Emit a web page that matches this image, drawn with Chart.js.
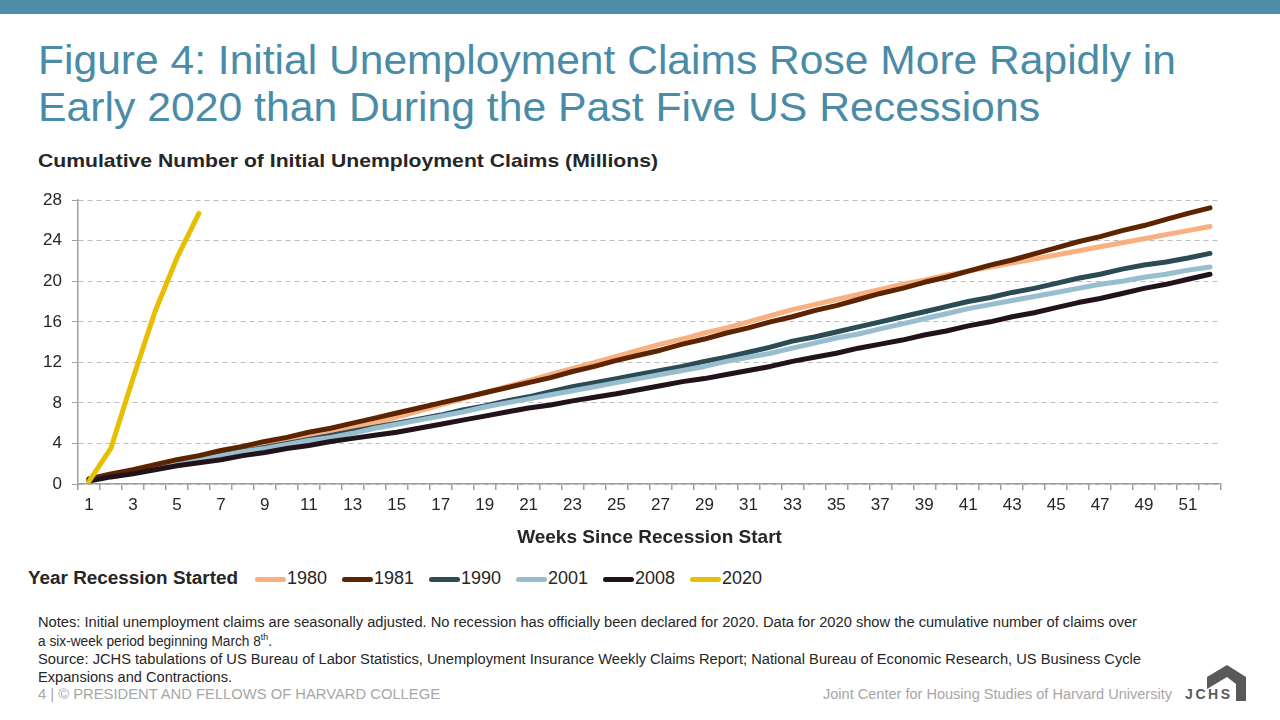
<!DOCTYPE html>
<html>
<head>
<meta charset="utf-8">
<script src="https://cdn.jsdelivr.net/npm/chart.js@4.4.1/dist/chart.umd.min.js"></script>
<style>
  body { margin:0; width:1280px; height:720px; position:relative; overflow:hidden; background:#fff; font-family:"Liberation Sans", Arial, sans-serif; }
  #barra { position:absolute; left:0; top:0; width:1280px; height:14px; background:#4E8CA8; }
  #titulo { position:absolute; left:38px; top:37px; font-size:41px; line-height:46.7px; color:#4A8BA7; }
  #subtitulo { position:absolute; left:38px; top:150px; font-size:19px; font-weight:bold; color:#262626; }
  #lienzo { position:absolute; left:0; top:180px; }
  .txt { position:absolute; white-space:nowrap; transform-origin:left center; }
  .nota { font-size:14px; color:#262626; line-height:18px; height:18px; }
  .nota sup { font-size:9px; line-height:0; vertical-align:6px; }
  .pie { font-size:14px; color:#A6A6A6; }
  .muestra { position:absolute; height:5px; border-radius:3px; }
</style>
</head>
<body>
<div id="barra"></div>
<div id="titulo">
  <div class="fit" data-w="1138">Figure 4: Initial Unemployment Claims Rose More Rapidly in</div>
  <div class="fit" data-w="1002">Early 2020 than During the Past Five US Recessions</div>
</div>
<div id="subtitulo" class="fit" data-w="620">Cumulative Number of Initial Unemployment Claims (Millions)</div>

<canvas id="lienzo" width="1280" height="380"></canvas>

<div id="leyenda"></div>

<div class="txt nota fit" data-w="1099" style="left:38px;top:613px">Notes: Initial unemployment claims are seasonally adjusted. No recession has officially been declared for 2020. Data for 2020 show the cumulative number of claims over</div>
<div class="txt nota fit" data-w="234" style="left:38px;top:632px">a six-week period beginning March 8<sup>th</sup>.</div>
<div class="txt nota fit" data-w="1103" style="left:38px;top:650px">Source: JCHS tabulations of US Bureau of Labor Statistics, Unemployment Insurance Weekly Claims Report; National Bureau of Economic Research, US Business Cycle</div>
<div class="txt nota fit" data-w="194" style="left:38px;top:668px">Expansions and Contractions.</div>
<div class="txt pie fit" data-w="402" style="left:38px;top:686px">4 | © PRESIDENT AND FELLOWS OF HARVARD COLLEGE</div>
<div class="txt pie fit" data-w="349" style="left:823px;top:686px">Joint Center for Housing Studies of Harvard University</div>
<div class="txt" style="left:1185px;top:686px;font-size:14px;font-weight:bold;letter-spacing:2.6px;color:#595959">JCHS</div>
<svg style="position:absolute;left:0;top:0" width="1280" height="720">
  <polygon points="1207,677 1227,665 1246,677 1246,701 1236,701 1236,684 1227,677 1207,689" fill="#595959"/>
</svg>

<script>
// Datos del gráfico
const semanas=[1,2,3,4,5,6,7,8,9,10,11,12,13,14,15,16,17,18,19,20,21,22,23,24,25,26,
  27,28,29,30,31,32,33,34,35,36,37,38,39,40,41,42,43,44,45,46,47,48,49,50,51,52];
const ticksY=[0,4,8,12,16,20,24,28];

const anios=["1980","1981","1990","2001","2008","2020"];
const colores=["#F9B07F","#5C2400","#2B4C55","#97BDCF","#22121C","#E8BF00"];

const v1980=[0.5,0.9,1.3,1.7,2.2,2.6,3.0,3.4,3.8,4.2,4.6,5.0,5.5,6.0,6.6,7.2,7.8,8.4,9.0,9.6,
  10.2,10.8,11.4,12.0,12.6,13.2,13.8,14.3,14.9,15.4,16.0,16.6,17.2,17.7,18.2,18.7,19.2,19.7,20.1,20.6,
  21.0,21.4,21.8,22.2,22.6,23.0,23.4,23.8,24.2,24.6,25.0,25.4];
const v1981=[0.5,1.0,1.4,1.9,2.4,2.8,3.3,3.7,4.2,4.6,5.1,5.5,6.0,6.5,7.0,7.5,8.0,8.5,9.0,9.5,
  10.0,10.5,11.1,11.6,12.2,12.7,13.2,13.8,14.3,14.9,15.4,16.0,16.5,17.1,17.6,18.2,18.8,19.3,19.9,20.4,
  21.0,21.6,22.1,22.7,23.3,23.9,24.4,25.0,25.5,26.1,26.7,27.25];
const v1990=[0.4,0.8,1.2,1.7,2.1,2.5,2.9,3.2,3.6,4.0,4.4,4.8,5.2,5.6,6.0,6.4,6.8,7.3,7.7,8.2,
  8.6,9.1,9.6,10.0,10.4,10.8,11.2,11.6,12.1,12.5,13.0,13.5,14.1,14.5,15.0,15.5,16.0,16.5,17.0,17.5,
  18.0,18.4,18.9,19.3,19.8,20.3,20.7,21.2,21.6,21.9,22.3,22.75];
const v2001=[0.4,0.8,1.2,1.6,2.0,2.4,2.8,3.2,3.5,3.9,4.3,4.6,5.0,5.5,5.9,6.3,6.7,7.1,7.6,8.0,
  8.4,8.8,9.2,9.6,10.0,10.4,10.8,11.2,11.6,12.1,12.5,12.9,13.4,13.9,14.4,14.8,15.3,15.8,16.3,16.8,
  17.3,17.7,18.1,18.5,18.9,19.3,19.7,20.0,20.4,20.7,21.1,21.4];
const v2008=[0.3,0.7,1.0,1.4,1.8,2.1,2.4,2.8,3.1,3.5,3.8,4.2,4.5,4.8,5.1,5.5,5.9,6.3,6.7,7.1,
  7.5,7.8,8.2,8.55,8.9,9.3,9.7,10.1,10.4,10.8,11.2,11.6,12.1,12.5,12.9,13.4,13.8,14.2,14.7,15.1,
  15.6,16.0,16.5,16.9,17.4,17.9,18.3,18.8,19.3,19.7,20.2,20.7];
const v2020=[0.25,3.55,10.4,17.0,22.3,26.7];

const series=[v1980,v1981,v1990,v2001,v2008,v2020];
const ordenDibujo=[5,2,4,3,1,0]; // 2020 encima de todo

// Leyenda en HTML
const leyenda=document.getElementById("leyenda");
leyenda.innerHTML='<div class="txt fit" data-w="210" style="left:28px;top:568px;font-size:18px;font-weight:bold;color:#262626">Year Recession Started</div>';
anios.forEach((a,i)=>{
  leyenda.innerHTML+='<div class="muestra" style="left:'+(255+87*i)+'px;top:577px;width:31px;background:'+colores[i]+'"></div>'+
    '<div class="txt" style="left:'+(287+87*i)+'px;top:568px;font-size:18px;color:#262626">'+a+'</div>';
});

// Ajustar ancho de los textos
document.querySelectorAll(".fit").forEach(el=>{
  el.style.display="block";
  el.style.whiteSpace="nowrap";
  el.style.width="max-content";
  el.style.transformOrigin="left center";
  const w=el.getBoundingClientRect().width;
  el.style.transform="scaleX("+(parseFloat(el.dataset.w)/w)+")";
});

// Grafica
const ctx=document.getElementById("lienzo").getContext("2d");
const datasets=anios.map((a,i)=>({
  label:a,
  data:series[i],
  borderColor:colores[i],
  backgroundColor:colores[i],
  borderWidth:5,
  pointRadius:0,
  tension:0,
  borderCapStyle:"round",
  borderJoinStyle:"round",
  order:ordenDibujo[i]
}));

new Chart(ctx,{
  type:"line",
  data:{labels:semanas,datasets:datasets},
  options:{
    responsive:false,
    animation:false,
    layout:{padding:{left:0,right:59,top:20,bottom:0}},
    plugins:{legend:{display:false},tooltip:{enabled:false}},
    scales:{
      x:{
        offset:true,
        afterFit:(s)=>{s.height=76;},
        grid:{offset:true,drawOnChartArea:false,drawTicks:true,tickLength:6,color:"#A0A0A0",lineWidth:1.5},
        border:{color:"#A0A0A0",width:1.5},
        ticks:{
          autoSkip:false,maxRotation:0,padding:5,color:"#262626",
          font:{family:"Liberation Sans",size:17},
          callback:function(v,i){ return i%2===0 ? semanas[i] : ""; }
        },
        title:{display:true,text:"Weeks Since Recession Start",color:"#262626",
          font:{family:"Liberation Sans",size:19,weight:"bold"},padding:{top:0,bottom:11}}
      },
      y:{
        min:0,max:28,
        afterFit:(s)=>{s.width=78;},
        afterBuildTicks:(s)=>{s.ticks=ticksY.map(v=>({value:v}));},
        grid:{color:"#BDBDBD",tickLength:6,tickColor:"#A0A0A0",tickBorderDash:[],lineWidth:1},
        border:{color:"#A0A0A0",width:1.5,dash:[5,4]},
        ticks:{padding:10,color:"#262626",font:{family:"Liberation Sans",size:17}}
      }
    }
  }
});
</script>
</body>
</html>
